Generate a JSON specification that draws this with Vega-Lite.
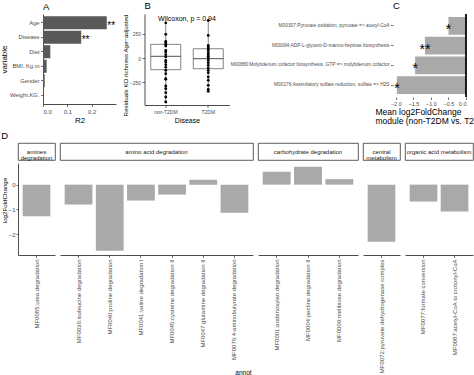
{
  "$schema": "https://vega.github.io/schema/vega-lite/v6.json",
  "padding": {"left": 0, "top": 1, "right": 0, "bottom": 0},
  "background": "white",
  "config": {
    "font": "Liberation Sans",
    "view": {"stroke": null},
    "axis": {"labelFont": "Liberation Sans", "titleFont": "Liberation Sans", "labelFontSize": 6, "labelColor": "#4d4d4d", "titleFontSize": 8, "titleFontWeight": "normal", "titleColor": "#000000", "domainColor": "#000000", "domainWidth": 0.7, "tickColor": "#333333", "tickWidth": 0.7, "tickSize": 2.5, "labelPadding": 1.5, "titlePadding": 2, "grid": false},
    "title": {"font": "Liberation Sans", "fontSize": 9.5, "fontWeight": "normal", "anchor": "start", "frame": "group", "offset": 3, "color": "#000000"}
  },
  "datasets": {
    "varR2": [
      {"variable": "Age", "R2": 0.262, "sig": "**"},
      {"variable": "Disease", "R2": 0.157, "sig": "**"},
      {"variable": "Diet", "R2": 0.03, "sig": ""},
      {"variable": "BMI..Kg.m", "R2": 0.015, "sig": ""},
      {"variable": "Gender", "R2": 0.007, "sig": ""},
      {"variable": "Weight.KG.", "R2": 0.003, "sig": ""}
    ],
    "boxstats": [
      {"Disease": "non-T2DM", "lower": -449, "q1": -119, "median": 17, "q3": 140, "upper": 360},
      {"Disease": "T2DM", "lower": -340, "q1": -109, "median": -6, "q3": 95, "upper": 384}
    ],
    "resid": [
      {"Disease": "non-T2DM", "r": 360}, {"Disease": "non-T2DM", "r": 242}, {"Disease": "non-T2DM", "r": 170}, {"Disease": "non-T2DM", "r": 156},
      {"Disease": "non-T2DM", "r": 140}, {"Disease": "non-T2DM", "r": 122}, {"Disease": "non-T2DM", "r": 78}, {"Disease": "non-T2DM", "r": 61},
      {"Disease": "non-T2DM", "r": 34}, {"Disease": "non-T2DM", "r": 10}, {"Disease": "non-T2DM", "r": -24}, {"Disease": "non-T2DM", "r": -41},
      {"Disease": "non-T2DM", "r": -68}, {"Disease": "non-T2DM", "r": -95}, {"Disease": "non-T2DM", "r": -126}, {"Disease": "non-T2DM", "r": -160},
      {"Disease": "non-T2DM", "r": -211}, {"Disease": "non-T2DM", "r": -218}, {"Disease": "non-T2DM", "r": -286}, {"Disease": "non-T2DM", "r": -313},
      {"Disease": "non-T2DM", "r": -354}, {"Disease": "non-T2DM", "r": -398}, {"Disease": "non-T2DM", "r": -449},
      {"Disease": "T2DM", "r": 384}, {"Disease": "T2DM", "r": 231}, {"Disease": "T2DM", "r": 129}, {"Disease": "T2DM", "r": 112},
      {"Disease": "T2DM", "r": 95}, {"Disease": "T2DM", "r": 78}, {"Disease": "T2DM", "r": 54}, {"Disease": "T2DM", "r": 34},
      {"Disease": "T2DM", "r": 17}, {"Disease": "T2DM", "r": 0}, {"Disease": "T2DM", "r": -24}, {"Disease": "T2DM", "r": -48},
      {"Disease": "T2DM", "r": -75}, {"Disease": "T2DM", "r": -102}, {"Disease": "T2DM", "r": -126}, {"Disease": "T2DM", "r": -150},
      {"Disease": "T2DM", "r": -194}, {"Disease": "T2DM", "r": -228}, {"Disease": "T2DM", "r": -279}, {"Disease": "T2DM", "r": -320},
      {"Disease": "T2DM", "r": -340}
    ],
    "wilcox": [{"label": "Wilcoxon, p = 0.94", "y": 398}],
    "cmod": [
      {"module": "M00307:Pyruvate oxidation, pyruvate => acetyl-CoA", "lfc": -0.5, "sig": "*"},
      {"module": "M00064:ADP-L-glycero-D-manno-heptose biosynthesis", "lfc": -1.17, "sig": "**"},
      {"module": "M00880:Molybdenum cofactor biosynthesis, GTP => molybdenum cofactor", "lfc": -1.45, "sig": "*"},
      {"module": "M00176:Assimilatory sulfate reduction, sulfate => H2S", "lfc": -1.97, "sig": "*"}
    ],
    "dmod": [
      {"group": "amines degradation", "annot": "MF0085:urea degradation", "lfc": -1.27},
      {"group": "amino acid degradation", "annot": "MF0036:isoleucine degradation", "lfc": -0.8},
      {"group": "amino acid degradation", "annot": "MF0040:proline degradation", "lfc": -2.66},
      {"group": "amino acid degradation", "annot": "MF0041:valine degradation I", "lfc": -0.64},
      {"group": "amino acid degradation", "annot": "MF0045:cysteine degradation II", "lfc": -0.4},
      {"group": "amino acid degradation", "annot": "MF0047:glutamine degradation II", "lfc": 0.2},
      {"group": "amino acid degradation", "annot": "MF0076:4-aminobutyrate degradation", "lfc": -1.13},
      {"group": "carbohydrate degradation", "annot": "MF0001:arabinoxylan degradation", "lfc": 0.52},
      {"group": "carbohydrate degradation", "annot": "MF0004:pectine degradation II", "lfc": 0.72},
      {"group": "carbohydrate degradation", "annot": "MF0009:melibiose degradation", "lfc": 0.22},
      {"group": "central metabolism", "annot": "MF0072:pyruvate dehydrogenase complex", "lfc": -2.3},
      {"group": "organic acid metabolism", "annot": "MF0077:formate conversion", "lfc": -0.68},
      {"group": "organic acid metabolism", "annot": "MF0087:acetyl-CoA to crotonyl-CoA", "lfc": -1.08}
    ],
    "strips": [
      {"group": "amines degradation", "label": "amines\ndegradation"},
      {"group": "amino acid degradation", "label": "amino acid degradation"},
      {"group": "carbohydrate degradation", "label": "carbohydrate degradation"},
      {"group": "central metabolism", "label": "central\nmetabolism"},
      {"group": "organic acid metabolism", "label": "organic acid metabolism"}
    ]
  },
  "vconcat": [
    {
      "hconcat": [
        {"width": 1, "height": 1, "data": {"values": []}, "mark": "point"},
        {
          "hconcat": [
            {
              "width": 73, "height": 90,
              "title": {"text": "A"},
              "data": {"name": "varR2"},
              "encoding": {
                "y": {"field": "variable", "type": "nominal", "sort": null, "scale": {"paddingInner": 0.1, "paddingOuter": 0.15}, "axis": {"title": "variable", "titleFontSize": 8, "labelFontSize": 5.8, "titlePadding": 1}},
                "x": {"field": "R2", "type": "quantitative", "scale": {"domain": [0, 0.3], "nice": false}, "axis": {"values": [0, 0.1, 0.2], "format": ".1f", "title": "R2", "titleFontSize": 8}}
              },
              "layer": [
                {"mark": {"type": "bar", "color": "#595959"}},
                {"mark": {"type": "text", "align": "left", "baseline": "alphabetic", "dx": 0.5, "dy": 6, "fontSize": 10, "color": "#000000"}, "encoding": {"text": {"field": "sig"}}}
              ]
            },
            {
              "hconcat": [
                {
                  "width": 85, "height": 91,
                  "title": {"text": "B"},
                  "layer": [
                    {"data": {"name": "boxstats"}, "mark": {"type": "rule", "color": "#333333", "strokeWidth": 0.6},
                     "encoding": {"x": {"field": "Disease", "type": "nominal", "scale": {"domain": ["non-T2DM", "T2DM"], "paddingInner": 0, "paddingOuter": 0}, "axis": {"labelAngle": 0, "labelFontSize": 5, "title": "Disease", "titleFontSize": 7}},
                                  "y": {"field": "lower", "type": "quantitative", "scale": {"domain": [-480, 450], "nice": false}, "axis": {"values": [250, 0, -250], "labelFontSize": 5, "title": "Residuals KO richness Age\u2212adjusted", "titleFontSize": 6.2, "titlePadding": 0.5, "titleY": 51}}, "y2": {"field": "upper"}}},
                    {"data": {"name": "boxstats"}, "mark": {"type": "bar", "fill": "white", "stroke": "#333333", "strokeWidth": 0.6, "width": 30},
                     "encoding": {"x": {"field": "Disease", "type": "nominal"}, "y": {"field": "q1", "type": "quantitative"}, "y2": {"field": "q3"}}},
                    {"data": {"name": "boxstats"}, "mark": {"type": "tick", "color": "#333333", "thickness": 1.2, "size": 30, "orient": "horizontal"},
                     "encoding": {"x": {"field": "Disease", "type": "nominal"}, "y": {"field": "median", "type": "quantitative"}}},
                    {"data": {"name": "resid"}, "mark": {"type": "point", "filled": true, "color": "#000000", "size": 8, "opacity": 1},
                     "encoding": {"x": {"field": "Disease", "type": "nominal"}, "y": {"field": "r", "type": "quantitative"}}},
                    {"data": {"name": "wilcox"}, "mark": {"type": "text", "fontSize": 7, "color": "#000000", "baseline": "middle"},
                     "encoding": {"y": {"field": "y", "type": "quantitative"}, "text": {"field": "label"}}}
                  ]
                },
                {
                  "width": 73, "height": 83,
                  "title": {"text": "C"},
                  "data": {"name": "cmod"},
                  "encoding": {
                    "y": {"field": "module", "type": "nominal", "sort": null, "scale": {"paddingInner": 0.1, "paddingOuter": 0.15}, "axis": {"title": null, "labelFontSize": 4.8, "domain": false, "labelLimit": 0}},
                    "x": {"field": "lfc", "type": "quantitative", "scale": {"domain": [-2.08, 0], "nice": false}, "axis": {"values": [-2, -1.5, -1, -0.5, 0], "format": ".1f", "labelFontSize": 5.5, "domain": false, "title": ["Mean log2FoldChange", "module (non-T2DM vs. T2DM)"], "titleFontSize": 8.5, "titleLineHeight": 8.5, "titlePadding": 1, "titleX": -18, "titleAlign": "left"}}
                  },
                  "layer": [
                    {"mark": {"type": "bar", "color": "#a9a9a9"}},
                    {"mark": {"type": "rule", "color": "#000000", "strokeWidth": 0.8}, "encoding": {"x": {"datum": 0}, "y": null}},
                    {"mark": {"type": "text", "align": "center", "baseline": "alphabetic", "dy": 8, "fontSize": 14, "color": "#000000"}, "encoding": {"text": {"field": "sig"}}}
                  ]
                }
              ],
              "spacing": 0.5
            }
          ],
          "spacing": 6.5
        }
      ],
      "spacing": -19
    },
    {
      "title": {"text": "D", "offset": 2, "frame": "bounds"},
      "columns": 5,
      "spacing": {"row": 1, "column": 3},
      "concat": [
        {"width": 37, "height": 17, "view": {"stroke": "#333333", "strokeWidth": 0.8}, "data": {"name": "strips"}, "transform": [{"filter": "datum.group == 'amines degradation'"}],
         "mark": {"type": "text", "fontSize": 6, "color": "#1a1a1a", "lineBreak": "\n", "lineHeight": 6.5, "baseline": "middle"},
         "encoding": {"x": {"field": "group", "type": "nominal", "axis": null}, "y": {"field": "group", "type": "nominal", "axis": null}, "text": {"field": "label"}}},
        {"width": 193, "height": 17, "view": {"stroke": "#333333", "strokeWidth": 0.8}, "data": {"name": "strips"}, "transform": [{"filter": "datum.group == 'amino acid degradation'"}],
         "mark": {"type": "text", "fontSize": 6, "color": "#1a1a1a", "lineBreak": "\n", "lineHeight": 6.5, "baseline": "middle"},
         "encoding": {"x": {"field": "group", "type": "nominal", "axis": null}, "y": {"field": "group", "type": "nominal", "axis": null}, "text": {"field": "label"}}},
        {"width": 100, "height": 17, "view": {"stroke": "#333333", "strokeWidth": 0.8}, "data": {"name": "strips"}, "transform": [{"filter": "datum.group == 'carbohydrate degradation'"}],
         "mark": {"type": "text", "fontSize": 6, "color": "#1a1a1a", "lineBreak": "\n", "lineHeight": 6.5, "baseline": "middle"},
         "encoding": {"x": {"field": "group", "type": "nominal", "axis": null}, "y": {"field": "group", "type": "nominal", "axis": null}, "text": {"field": "label"}}},
        {"width": 37, "height": 17, "view": {"stroke": "#333333", "strokeWidth": 0.8}, "data": {"name": "strips"}, "transform": [{"filter": "datum.group == 'central metabolism'"}],
         "mark": {"type": "text", "fontSize": 6, "color": "#1a1a1a", "lineBreak": "\n", "lineHeight": 6.5, "baseline": "middle"},
         "encoding": {"x": {"field": "group", "type": "nominal", "axis": null}, "y": {"field": "group", "type": "nominal", "axis": null}, "text": {"field": "label"}}},
        {"width": 68, "height": 17, "view": {"stroke": "#333333", "strokeWidth": 0.8}, "data": {"name": "strips"}, "transform": [{"filter": "datum.group == 'organic acid metabolism'"}],
         "mark": {"type": "text", "fontSize": 6, "color": "#1a1a1a", "lineBreak": "\n", "lineHeight": 6.5, "baseline": "middle"},
         "encoding": {"x": {"field": "group", "type": "nominal", "axis": null}, "y": {"field": "group", "type": "nominal", "axis": null}, "text": {"field": "label"}}},

        {"width": 37, "height": 92, "data": {"name": "dmod"}, "transform": [{"filter": "datum.group == 'amines degradation'"}],
         "mark": {"type": "bar", "color": "#a9a9a9"},
         "encoding": {"x": {"field": "annot", "type": "nominal", "scale": {"paddingInner": 0.11, "paddingOuter": 0.15}, "axis": {"title": null, "labelAngle": -90, "labelFontSize": 6, "labelLimit": 0}},
                      "y": {"field": "lfc", "type": "quantitative", "scale": {"domain": [-2.83, 0.87], "nice": false}, "axis": {"values": [0, -1, -2], "format": "d", "title": "log2FoldChange", "titleFontSize": 6.2, "titleY": 37, "titlePadding": 1, "tickSize": 2, "labelPadding": 1}}}},
        {"width": 193, "height": 92, "data": {"name": "dmod"}, "transform": [{"filter": "datum.group == 'amino acid degradation'"}],
         "mark": {"type": "bar", "color": "#a9a9a9"},
         "encoding": {"x": {"field": "annot", "type": "nominal", "scale": {"paddingInner": 0.11, "paddingOuter": 0.15}, "axis": {"title": "annot", "titleFontSize": 6.5, "titleX": 183, "titleY": 114, "titleBaseline": "top", "labelAngle": -90, "labelFontSize": 6, "labelLimit": 0}},
                      "y": {"field": "lfc", "type": "quantitative", "scale": {"domain": [-2.83, 0.87], "nice": false}, "axis": null}}},
        {"width": 100, "height": 92, "data": {"name": "dmod"}, "transform": [{"filter": "datum.group == 'carbohydrate degradation'"}],
         "mark": {"type": "bar", "color": "#a9a9a9"},
         "encoding": {"x": {"field": "annot", "type": "nominal", "scale": {"paddingInner": 0.11, "paddingOuter": 0.15}, "axis": {"title": null, "labelAngle": -90, "labelFontSize": 6, "labelLimit": 0}},
                      "y": {"field": "lfc", "type": "quantitative", "scale": {"domain": [-2.83, 0.87], "nice": false}, "axis": null}}},
        {"width": 37, "height": 92, "data": {"name": "dmod"}, "transform": [{"filter": "datum.group == 'central metabolism'"}],
         "mark": {"type": "bar", "color": "#a9a9a9"},
         "encoding": {"x": {"field": "annot", "type": "nominal", "scale": {"paddingInner": 0.11, "paddingOuter": 0.15}, "axis": {"title": null, "labelAngle": -90, "labelFontSize": 6, "labelLimit": 0}},
                      "y": {"field": "lfc", "type": "quantitative", "scale": {"domain": [-2.83, 0.87], "nice": false}, "axis": null}}},
        {"width": 68, "height": 92, "data": {"name": "dmod"}, "transform": [{"filter": "datum.group == 'organic acid metabolism'"}],
         "mark": {"type": "bar", "color": "#a9a9a9"},
         "encoding": {"x": {"field": "annot", "type": "nominal", "scale": {"paddingInner": 0.11, "paddingOuter": 0.15}, "axis": {"title": null, "labelAngle": -90, "labelFontSize": 6, "labelLimit": 0}},
                      "y": {"field": "lfc", "type": "quantitative", "scale": {"domain": [-2.83, 0.87], "nice": false}, "axis": null}}}
      ]
    }
  ],
  "spacing": 6
}
